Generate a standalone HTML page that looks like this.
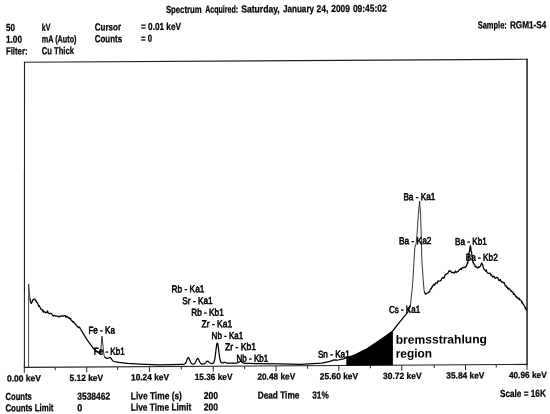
<!DOCTYPE html>
<html><head><meta charset="utf-8"><title>Spectrum</title>
<style>
html,body{margin:0;padding:0;background:#fff;}
body{width:550px;height:414px;overflow:hidden;}
svg{display:block;}
text{font-family:"Liberation Sans",sans-serif;fill:#000;white-space:pre;}
.b{font-weight:bold;font-size:10.2px;stroke:#000;stroke-width:0.25px;}
.a{font-weight:bold;font-size:9.0px;stroke:#000;stroke-width:0.25px;}
.e{font-weight:normal;font-size:10px;stroke:#000;stroke-width:0.55px;}
.r{font-weight:bold;font-size:12.2px;}
.frame line{stroke:#222;stroke-width:1.1;}
.ticks line{stroke:#222;stroke-width:1;}
</style></head><body>
<svg width="550" height="414" viewBox="0 0 550 414">
<rect width="550" height="414" fill="#fff"/>
<g transform="skewY(-0.3495)">
<g class="frame">
<line x1="24.5" y1="61.9" x2="24.4" y2="368.1"/>
<line x1="23.9" y1="62.45" x2="527.6" y2="62.45"/>
<line x1="527.05" y1="61.9" x2="527.05" y2="368.1" style="stroke:#111;stroke-width:1.4"/>
<line x1="23.9" y1="367.55" x2="527.6" y2="367.55"/>
</g>
<g class="ticks">
<line x1="24.3" y1="367.6" x2="24.3" y2="372.9"/>
<line x1="55.2" y1="367.6" x2="55.2" y2="370.6"/>
<line x1="86.7" y1="367.6" x2="86.7" y2="372.9"/>
<line x1="117.7" y1="367.6" x2="117.7" y2="370.6"/>
<line x1="149.4" y1="367.6" x2="149.4" y2="372.9"/>
<line x1="181.3" y1="367.6" x2="181.3" y2="370.6"/>
<line x1="213.3" y1="367.6" x2="213.3" y2="372.9"/>
<line x1="244.7" y1="367.6" x2="244.7" y2="370.6"/>
<line x1="276.1" y1="367.6" x2="276.1" y2="372.9"/>
<line x1="307.6" y1="367.6" x2="307.6" y2="370.6"/>
<line x1="338.8" y1="367.6" x2="338.8" y2="372.9"/>
<line x1="370.3" y1="367.6" x2="370.3" y2="370.6"/>
<line x1="401.8" y1="367.6" x2="401.8" y2="372.9"/>
<line x1="434.2" y1="367.6" x2="434.2" y2="370.6"/>
<line x1="465.5" y1="367.6" x2="465.5" y2="372.9"/>
<line x1="496.2" y1="367.6" x2="496.2" y2="370.6"/>
<line x1="527.0" y1="367.6" x2="527.0" y2="372.9"/>
</g>
<path d="M346.3,359.9 L354.5,357.2 L365.5,351.9 L376.4,344.8 L387.3,337.3 L392.9,333.2 L392.9,367.6 L346.3,367.6Z" fill="#000"/>
<path d="M28.6,367.5 L28.6,284.2 L29.3,292 L29.9,298.2" fill="none" stroke="#222" stroke-width="0.8"/>
<path d="M29.9,298.2 L30.5,302.2 L31.3,303.7 L31.7,302.4 L32.1,302.4 L32.5,300.4 L33.1,300.4 L33.8,299.3 L35.0,299.4 L35.5,301.1 L36.1,301.0 L36.6,302.6 L37.1,302.7 L37.6,303.5 L38.2,304.9 L38.7,306.5 L39.2,305.9 L39.7,306.8 L40.3,308.2 L40.8,309.4 L41.4,309.4 L41.9,309.7 L42.5,311.4 L43.0,310.3 L43.6,312.5 L44.3,312.0 L45.0,312.4 L45.6,313.0 L46.2,312.7 L46.9,313.0 L47.5,311.2 L48.0,312.6 L48.5,313.4 L49.0,313.6 L49.9,314.1 L50.7,313.5 L51.5,314.0 L52.2,314.8 L53.0,316.2 L54.0,315.9 L54.9,315.8 L55.9,316.5 L57.0,316.5 L58.0,316.5 L59.0,317.3 L60.0,317.0 L61.0,316.1 L61.8,316.5 L62.6,316.2 L63.4,316.6 L64.2,316.1 L65.1,315.9 L66.0,317.8 L67.0,316.6 L68.0,317.6 L68.6,318.7 L69.3,318.1 L69.9,319.3 L70.6,319.0 L71.2,320.7 L71.9,321.4 L72.5,321.6 L73.1,322.8 L73.8,322.4 L74.4,323.8 L75.0,324.3 L75.7,324.9 L76.3,325.4 L77.0,326.7 L77.6,327.5 L78.2,327.2 L78.9,328.1 L79.5,327.6 L80.2,329.0 L86.6,339.7 L93.7,349.4 L100.2,354.6 M104.5,357.8 L107.0,359.1 L108.5,358.7 L110.0,357.9 L111.5,359.7 L112.9,361.7 L116.0,362.7 L118.7,363.1 L127.6,364.1 L140.0,364.9 L159.0,365.8 L182.0,365.5 L182.5,365.5 L183.0,365.5 L183.5,365.4 L184.0,365.4 L184.5,365.2 L185.0,364.9 L185.5,364.4 L186.0,363.5 L186.5,362.3 L187.0,360.9 L187.5,359.6 L188.0,358.8 L188.5,358.7 L189.0,359.4 L189.5,360.6 L190.0,362.0 L190.5,363.2 L191.0,364.1 L191.5,364.7 L192.0,365.0 L192.5,365.2 L193.0,365.2 L193.5,365.2 L194.0,365.1 L194.5,364.8 L195.0,364.3 L195.5,363.5 L196.0,362.4 L196.5,361.3 L197.0,360.2 L197.5,359.7 L198.0,359.7 L198.5,360.4 L199.0,361.5 L199.5,362.7 L200.0,363.7 L200.5,364.4 L201.0,364.9 L201.5,365.1 L202.0,365.3 L202.5,365.3 L203.0,365.3 L203.5,365.2 L204.0,365.1 L204.5,364.9 L205.0,364.6 L205.5,364.1 L206.0,363.6 L206.5,363.0 L207.0,362.6 L207.5,362.5 L208.0,362.6 L208.5,362.9 L209.0,363.4 L209.5,363.9 L210.0,364.3 L210.5,364.6 L211.0,364.7 L211.5,364.8 L212.0,364.8 L212.5,364.7 L213.0,364.5 L213.5,364.1 L214.0,363.2 L214.5,361.6 L215.0,358.9 L215.5,355.2 L216.0,351.0 L216.5,347.1 L217.0,344.7 L217.5,344.4 L218.0,346.4 L218.5,350.1 L219.0,354.3 L219.5,358.1 L220.0,360.9 L220.5,362.7 L221.0,363.7 L221.5,364.1 L222.0,364.3 L222.5,364.3 L223.0,364.2 L223.5,364.0 L224.0,363.8 L224.5,363.8 L225.0,363.8 L225.5,363.9 L226.0,364.1 L226.5,364.3 L227.0,364.4 L227.5,364.5 L228.0,364.5 L228.5,364.5 L229.0,364.5 L229.5,364.5 L230.0,364.5 L230.5,364.5 L231.0,364.5 L231.5,364.5 L232.0,364.5 L232.5,364.5 L233.0,364.5 L233.5,364.6 L234.0,364.6 L234.5,364.6 L235.0,364.6 L235.5,364.6 L236.0,364.6 L236.5,364.6 L237.0,364.5 L237.5,364.4 L238.0,364.2 L238.5,363.9 L239.0,363.6 L239.5,363.2 L240.0,362.9 L240.5,362.9 L241.0,363.0 L241.5,363.3 L242.0,363.6 L242.5,364.0 L243.0,364.4 L243.5,364.6 L244.0,364.7 L244.5,364.8 L245.0,364.9 L245.5,364.9 L246.0,364.9 L246.5,364.9 L247.0,364.9 L247.5,365.0 L248.0,365.0 L248.5,365.0 L249.0,365.0 L249.5,365.0 L250.0,365.0 L260.0,365.2 L280.0,365.5 L300.0,366.1 L321.8,365.0 L330.0,363.3 L333.8,362.0 L337.0,362.3 L343.6,361.0 L346.3,359.9 L354.5,357.2 L365.5,351.9 L376.4,344.8 L387.3,337.3 L392.7,333.4 L398.2,326.4 L402.7,320.9 L407.8,314.5 L410.4,308.1 M424.2,294.1 L425.5,296.7 L428.3,295.3 L428.8,294.5 L429.3,294.7 L429.8,293.6 L430.3,291.8 L430.9,291.4 L431.4,291.4 L431.9,289.3 L432.4,289.6 L432.9,288.3 L433.4,287.6 L434.0,286.9 L434.7,287.9 L435.4,285.9 L436.0,285.6 L436.6,285.4 L437.3,285.9 L437.9,283.6 L438.6,283.9 L439.2,283.7 L439.9,283.9 L440.5,283.3 L441.1,282.9 L441.8,281.0 L442.4,280.8 L443.1,280.2 L443.7,280.9 L444.3,280.5 L444.9,278.0 L445.4,277.5 L446.0,277.1 L446.6,276.5 L447.2,276.5 L447.8,276.2 L448.4,274.8 L448.9,273.7 L449.5,274.0 L450.1,273.3 L450.9,274.2 L451.6,275.5 L452.4,275.2 L453.1,275.2 L453.9,275.8 L454.6,275.6 L455.4,273.8 L456.1,275.4 L456.8,274.7 L457.5,274.6 L458.3,274.1 L459.0,272.8 L459.8,272.4 L460.6,271.4 L461.4,272.3 L462.2,270.7 L463.0,270.3 L463.8,270.4 L464.6,270.0 L465.5,270.1 L466.3,269.2 L466.5,268.3 L466.8,267.9 L467.0,267.0 L467.2,266.9 L467.4,265.3 L467.7,266.5 L467.9,265.1 L468.0,263.2 L468.1,262.6 L468.2,262.0 L468.4,261.2 L468.5,259.8 L468.6,260.7 L468.7,260.2 L468.8,258.1 L468.9,257.3 L469.1,255.6 L469.2,254.8 L469.3,254.5 L469.5,253.5 L469.6,254.0 L469.8,251.6 L469.9,250.5 L470.1,251.8 L470.2,250.0 L470.4,248.4 L470.6,250.1 L470.7,249.7 L470.9,251.7 L471.0,253.5 L471.2,254.1 L471.3,254.5 L471.5,254.3 L471.6,255.4 L471.7,255.8 L471.9,258.0 L472.0,258.3 L472.1,259.7 L472.2,259.5 L472.3,260.0 L472.4,262.2 L472.6,263.4 L472.7,264.0 L472.8,264.7 L473.1,265.5 L473.4,266.1 L473.7,265.7 L474.1,267.2 L474.4,267.6 L474.7,267.6 L475.0,268.4 L475.3,269.8 L476.1,269.6 L477.0,270.5 L477.8,271.0 L478.6,269.7 L479.3,270.2 L479.9,269.6 L480.6,268.9 L481.2,266.9 L481.9,265.9 L482.2,266.7 L482.6,267.5 L482.9,268.3 L483.3,270.1 L483.6,271.5 L484.0,272.2 L484.3,272.2 L484.9,273.1 L485.6,274.0 L486.2,272.8 L486.8,274.7 L487.4,275.8 L488.1,276.0 L488.7,276.4 L489.3,276.3 L490.0,276.2 L490.7,278.1 L491.4,277.6 L492.1,279.2 L492.8,280.1 L493.6,279.2 L494.3,279.6 L495.1,281.3 L495.8,281.2 L496.6,280.4 L497.3,280.7 L498.1,281.2 L498.8,283.4 L499.6,283.6 L500.3,282.5 L501.1,284.5 L501.8,285.3 L502.3,285.1 L502.9,285.0 L503.4,286.1 L504.0,285.7 L504.5,286.0 L505.1,288.8 L505.6,288.7 L506.1,289.0 L506.7,290.5 L507.2,290.0 L507.8,291.6 L508.3,292.1 L508.9,291.2 L509.4,291.9 L510.0,292.6 L510.6,293.1 L511.2,294.5 L511.8,294.3 L512.4,295.3 L513.0,295.2 L513.5,297.6 L514.1,296.9 L514.7,297.8 L515.3,298.7 L515.9,300.0 L516.5,299.5 L517.1,301.2 L517.7,300.9 L518.3,301.6 L518.8,302.3 L519.4,301.7 L520.0,303.4 L520.6,303.4 L521.2,303.7 L521.8,306.1 L522.3,305.3 L522.9,306.7 L523.5,307.9 L523.9,308.3 L524.3,308.6 L524.7,309.8 L525.1,310.7 L525.5,312.1 L525.9,311.3 L526.3,313.1 L526.7,313.8" fill="none" stroke="#000" stroke-width="1.25" stroke-linejoin="round"/>
<path d="M410.4,308.1 L411.5,297.5 L412.3,290.5 L412.9,282.5 L414.0,263.1 L414.8,250.3 L416.1,246.5 L417.0,237.5 L418.3,217.6 L419.6,203.5 L420.6,217.6 L421.2,237.6 L421.9,263.2 L423.2,282.6 L424.2,294.1 M100.2,354.6 L100.8,350.6 L101.4,343.6 L102.0,336.8 L102.7,343.6 L103.4,350.6 L104.0,355.6 L104.5,357.8" fill="none" stroke="#111" stroke-width="0.85" stroke-linejoin="round"/>
<g>
<text class="b" x="165.9" y="14.10" textLength="35.7" lengthAdjust="spacingAndGlyphs">Spectrum</text>
<text class="b" x="205.2" y="14.10" textLength="33.0" lengthAdjust="spacingAndGlyphs">Acquired:</text>
<text class="b" x="241.2" y="14.10" textLength="38.5" lengthAdjust="spacingAndGlyphs">Saturday,</text>
<text class="b" x="282.9" y="14.10" textLength="31.2" lengthAdjust="spacingAndGlyphs">January</text>
<text class="b" x="316.5" y="14.10" textLength="11.8" lengthAdjust="spacingAndGlyphs">24,</text>
<text class="b" x="331.3" y="14.10" textLength="18.6" lengthAdjust="spacingAndGlyphs">2009</text>
<text class="b" x="352.9" y="14.10" textLength="33.7" lengthAdjust="spacingAndGlyphs">09:45:02</text>
<text class="b" x="5.9" y="31.04" textLength="9.0" lengthAdjust="spacingAndGlyphs">50</text>
<text class="b" x="5.9" y="42.74" textLength="16.1" lengthAdjust="spacingAndGlyphs">1.00</text>
<text class="b" x="5.9" y="54.54" textLength="21.7" lengthAdjust="spacingAndGlyphs">Filter:</text>
<text class="b" x="41.8" y="31.15" textLength="8.7" lengthAdjust="spacingAndGlyphs">kV</text>
<text class="b" x="41.8" y="42.85" textLength="34.7" lengthAdjust="spacingAndGlyphs">mA (Auto)</text>
<text class="b" x="41.8" y="54.55" textLength="32.1" lengthAdjust="spacingAndGlyphs">Cu Thick</text>
<text class="b" x="94.8" y="31.08" textLength="26.3" lengthAdjust="spacingAndGlyphs">Cursor</text>
<text class="b" x="94.8" y="42.88" textLength="27.3" lengthAdjust="spacingAndGlyphs">Counts</text>
<text class="b" x="141.0" y="30.96" textLength="40.0" lengthAdjust="spacingAndGlyphs">= 0.01 keV</text>
<text class="b" x="141.0" y="42.76" textLength="11.0" lengthAdjust="spacingAndGlyphs">= 0</text>
<text class="b" x="477.7" y="31.51" textLength="29.1" lengthAdjust="spacingAndGlyphs">Sample:</text>
<text class="b" x="509.9" y="31.51" textLength="36.4" lengthAdjust="spacingAndGlyphs">RGM1-S4</text>
<text class="a" x="6.9" y="381.54" textLength="34.1" lengthAdjust="spacingAndGlyphs">0.00 keV</text>
<text class="a" x="69.6" y="381.52" textLength="33.5" lengthAdjust="spacingAndGlyphs">5.12 keV</text>
<text class="a" x="131.0" y="381.20" textLength="38.0" lengthAdjust="spacingAndGlyphs">10.24 keV</text>
<text class="a" x="194.7" y="381.29" textLength="37.8" lengthAdjust="spacingAndGlyphs">15.36 keV</text>
<text class="a" x="257.4" y="381.27" textLength="37.8" lengthAdjust="spacingAndGlyphs">20.48 keV</text>
<text class="a" x="319.8" y="381.35" textLength="38.3" lengthAdjust="spacingAndGlyphs">25.60 keV</text>
<text class="a" x="383.0" y="381.44" textLength="38.6" lengthAdjust="spacingAndGlyphs">30.72 keV</text>
<text class="a" x="446.3" y="381.32" textLength="38.1" lengthAdjust="spacingAndGlyphs">35.84 keV</text>
<text class="a" x="508.9" y="381.30" textLength="37.8" lengthAdjust="spacingAndGlyphs">40.96 keV</text>
<text class="b" x="5.4" y="400.03" textLength="26.5" lengthAdjust="spacingAndGlyphs">Counts</text>
<text class="b" x="5.4" y="411.53" textLength="48.1" lengthAdjust="spacingAndGlyphs">Counts Limit</text>
<text class="b" x="77.3" y="400.27" textLength="32.8" lengthAdjust="spacingAndGlyphs">3538462</text>
<text class="b" x="77.3" y="411.77" textLength="5.0" lengthAdjust="spacingAndGlyphs">0</text>
<text class="b" x="130.8" y="400.20" textLength="51.1" lengthAdjust="spacingAndGlyphs">Live Time (s)</text>
<text class="b" x="130.8" y="411.60" textLength="60.6" lengthAdjust="spacingAndGlyphs">Live Time Limit</text>
<text class="b" x="203.7" y="400.34" textLength="14.3" lengthAdjust="spacingAndGlyphs">200</text>
<text class="b" x="203.7" y="411.84" textLength="14.3" lengthAdjust="spacingAndGlyphs">200</text>
<text class="b" x="257.7" y="400.27" textLength="41.7" lengthAdjust="spacingAndGlyphs">Dead Time</text>
<text class="b" x="312.3" y="400.41" textLength="16.4" lengthAdjust="spacingAndGlyphs">31%</text>
<text class="b" x="500.0" y="400.15" textLength="45.8" lengthAdjust="spacingAndGlyphs">Scale = 16K</text>
<text class="e" x="88.4" y="334.19" textLength="26.6" lengthAdjust="spacingAndGlyphs">Fe - Ka</text>
<text class="e" x="93.7" y="355.42" textLength="31.1" lengthAdjust="spacingAndGlyphs">Fe - Kb1</text>
<text class="e" x="171.6" y="293.50" textLength="32.8" lengthAdjust="spacingAndGlyphs">Rb - Ka1</text>
<text class="e" x="182.3" y="305.36" textLength="30.4" lengthAdjust="spacingAndGlyphs">Sr - Ka1</text>
<text class="e" x="191.2" y="317.02" textLength="32.6" lengthAdjust="spacingAndGlyphs">Rb - Kb1</text>
<text class="e" x="201.6" y="328.58" textLength="30.6" lengthAdjust="spacingAndGlyphs">Zr - Ka1</text>
<text class="e" x="211.6" y="340.44" textLength="31.7" lengthAdjust="spacingAndGlyphs">Nb - Ka1</text>
<text class="e" x="225.0" y="351.62" textLength="31.0" lengthAdjust="spacingAndGlyphs">Zr - Kb1</text>
<text class="e" x="236.5" y="363.29" textLength="31.7" lengthAdjust="spacingAndGlyphs">Nb - Kb1</text>
<text class="e" x="317.9" y="359.59" textLength="31.8" lengthAdjust="spacingAndGlyphs">Sn - Ka1</text>
<text class="e" x="388.9" y="315.32" textLength="31.3" lengthAdjust="spacingAndGlyphs">Cs - Ka1</text>
<text class="e" x="403.4" y="202.71" textLength="31.9" lengthAdjust="spacingAndGlyphs">Ba - Ka1</text>
<text class="e" x="398.9" y="246.68" textLength="32.6" lengthAdjust="spacingAndGlyphs">Ba - Ka2</text>
<text class="e" x="455.0" y="247.73" textLength="31.8" lengthAdjust="spacingAndGlyphs">Ba - Kb1</text>
<text class="e" x="465.7" y="263.69" textLength="32.1" lengthAdjust="spacingAndGlyphs">Ba - Kb2</text>
<text class="r" x="395.7" y="346.21" textLength="91.2" lengthAdjust="spacingAndGlyphs">bremsstrahlung</text>
<text class="r" x="395.7" y="360.11" textLength="36.3" lengthAdjust="spacingAndGlyphs">region</text>
</g>
</g>
</svg>
</body></html>
